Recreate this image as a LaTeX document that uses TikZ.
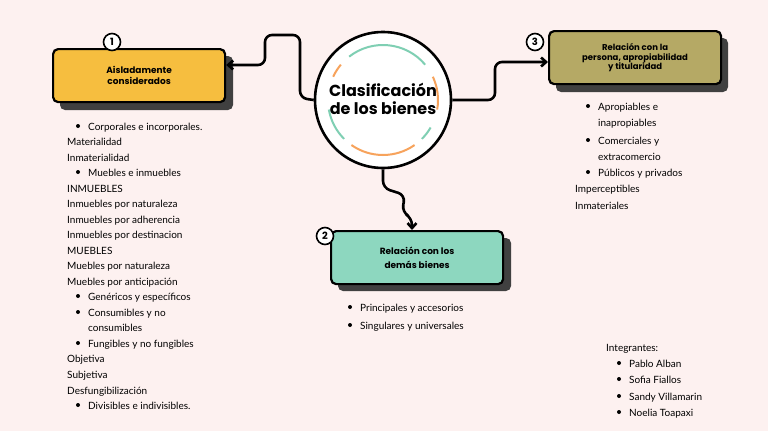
\documentclass[tikz,border=0pt]{standalone}
\usepackage{fontspec}
\setmainfont{Lato}
\newfontfamily\hfont{Poppins}[UprightFont=* Bold]
\usetikzlibrary{arrows.meta,patterns}
\definecolor{bg}{HTML}{FDF1F0}
\definecolor{yel}{HTML}{F6BE3F}
\definecolor{tea}{HTML}{8DD7BF}
\definecolor{oli}{HTML}{B5A965}
\definecolor{ora}{HTML}{F7A35C}
\definecolor{lte}{HTML}{7FCFB3}
\begin{document}
\begin{tikzpicture}[x=1pt,y=-1pt,
 box/.style={draw=black,line width=2.2pt,rounded corners=5pt,minimum width=172pt,minimum height=53pt,align=center,font=\hfont\fontsize{9}{11}\selectfont,anchor=north west,inner sep=2pt},
 shad/.style={fill=black!75,rounded corners=5pt},
 num/.style={circle,draw=black,line width=1.6pt,fill=white,minimum size=17pt,inner sep=0pt,font=\hfont\fontsize{10}{10}\selectfont},
 conn/.style={line width=2.6pt,rounded corners=7pt,-{Straight Barb[length=5pt,width=9pt]}},
 txt/.style={anchor=base west,inner sep=0pt,font=\fontsize{10}{12}\selectfont},
 bul/.style={circle,fill=black,inner sep=0pt,minimum size=4pt}]
\fill[bg] (0,0) rectangle (768,431);
\useasboundingbox (0,0) rectangle (768,431);
% shadows
\fill[shad] (60,56) rectangle (233,110);
\fill[shad] (338,238) rectangle (511,291);
\fill[shad] (556,38) rectangle (728,92);
\node[box,fill=yel] (b1) at (52,48) {Aisladamente\\considerados};
\node[box,fill=tea] (b2) at (330,230) {Relación con los\\[3pt]demás bienes};
\node[box,fill=oli,font=\hfont\fontsize{8.5}{9.5}\selectfont] (b3) at (548,30) {Relación con la\\persona, apropiabilidad\\y titularidad};
\node[num] (n1) at (112,42) {1};
\node[num] (n2) at (325,236) {2};
\node[num] (n3) at (535,42) {3};
% circle
\node[circle,draw=black,line width=2.6pt,fill=white,minimum size=136pt] (c) at (383,100) {};
\draw[ora,line width=2pt] (383,100) ++(55:55) arc (55:125:55);
\draw[lte,line width=2pt] (383,100) ++(135:55) arc (135:170:55);
\draw[lte,line width=2pt] (383,100) ++(30:55) arc (30:45:55);
\draw[ora,line width=2pt] (383,100) ++(10:55) arc (10:-25:55);
\draw[ora,line width=2pt] (383,100) ++(-155:55) arc (-155:-140:55);
\draw[lte,line width=2pt] (383,100) ++(-128:55) arc (-128:-40:55);
\node[font=\hfont\fontsize{16}{18}\selectfont,align=center] (t) at (383,99) {Clasificación\\de los bienes};
% connectors
\draw[conn] (c.west) -- (300,98) -- (300,35) -- (265,35) -- (265,65) -- (b1.east |- 0,65);
\draw[conn] (c.east) -- (495,100) -- (495,62) -- (b3.west |- 0,62);
\draw[conn] (c.south) -- (383,188) -- (405,195) -- (402,212) -- (412,218) -- (412,230);
% left list
\foreach \y/\x/\b/\s in {126/88/1/Corporales e incorporales.,141/67/0/Materialidad,157/67/0/Inmaterialidad,172/88/1/Muebles e inmuebles,188/67/0/INMUEBLES,203/67/0/Inmuebles por naturaleza,219/67/0/Inmuebles por adherencia,234/67/0/Inmuebles por destinacion,250/67/0/MUEBLES,265/67/0/Muebles por naturaleza,281/67/0/Muebles por anticipación,296/88/1/Genéricos y específicos,312/88/1/Consumibles y no,327/88/0/consumibles,343/88/1/Fungibles y no fungibles,358/67/0/Objetiva,374/67/0/Subjetiva,390/67/0/Desfungibilización,405/88/1/Divisibles e indivisibles.}{
 \node[txt] (l\y) at (\x,\y+4) {\s};
 \ifnum\b=1 \node[bul] at (78,\y) {};\fi
}
% right list
\foreach \y/\x/\b/\s in {106/598/1/Apropiables e,122/598/0/inapropiables,140/598/1/Comerciales y,156/598/0/extracomercio,172/598/1/Públicos y privados,188/575/0/Imperceptibles,205/575/0/Inmateriales}{
 \node[txt] (r\y) at (\x,\y+4) {\s};
 \ifnum\b=1 \node[bul] at (588,\y) {};\fi
}
% middle list
\foreach \y/\s in {307/Principales y accesorios,325/Singulares y universales}{
 \node[txt] (m\y) at (360,\y+4) {\s};
 \node[bul] at (350,\y) {};
}
% integrantes
\node[txt] (int) at (606,351) {Integrantes:};
\foreach \y/\s in {363/Pablo Alban,379/Sofia Fiallos,396/Sandy Villamarin,412/Noelia Toapaxi}{
 \node[txt] (p\y) at (629,\y+4) {\s};
 \node[bul] at (619,\y) {};
}
\end{tikzpicture}
\end{document}
